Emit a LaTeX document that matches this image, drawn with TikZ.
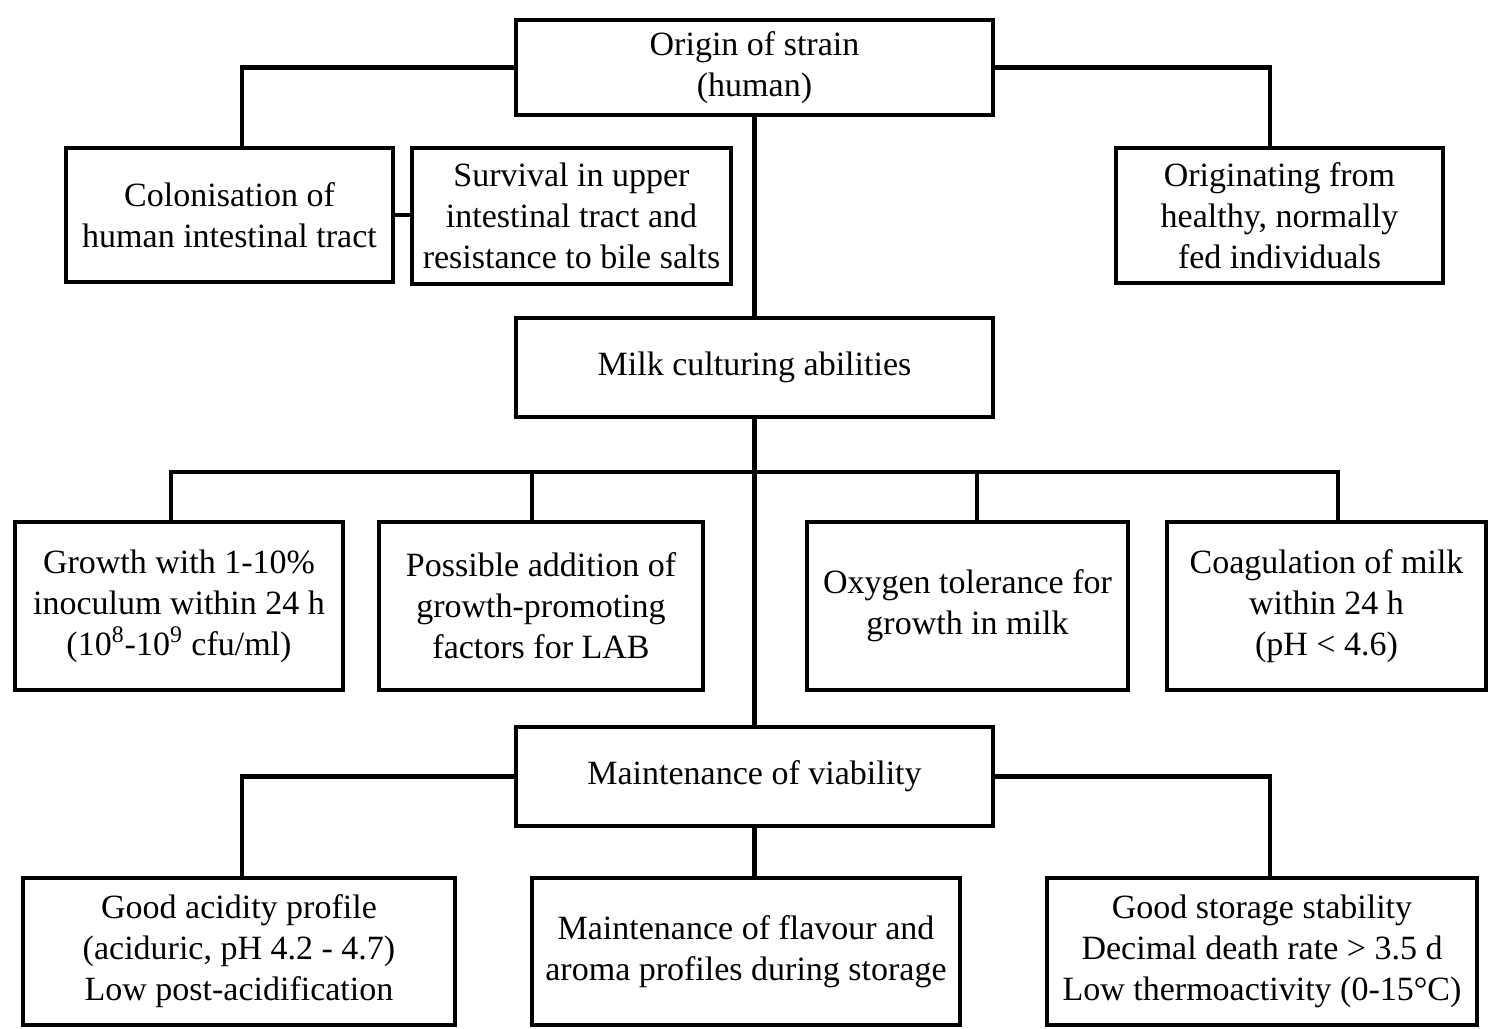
\documentclass[tikz,border=0pt]{standalone}
\usepackage{fontspec}
\setmainfont{Liberation Serif}
\begin{document}
\begin{tikzpicture}[x=0.5pt,y=-0.5pt,
  box/.style={draw,line width=2.2pt,inner sep=0pt,align=center,
    font=\fontsize{17}{20.5}\selectfont},
  link/.style={line width=2.2pt}]
\useasboundingbox[fill=white] (0,0) rectangle (1508,1028);
% level 1
\node[box,minimum width=238.5pt,minimum height=47.5pt] (origin) at (754.5,67.5) {Origin of strain\\(human)};
\node[box,minimum width=163.5pt,minimum height=67pt] (colon) at (229.5,215) {Colonisation of\\human intestinal tract};
\node[box,minimum width=159.5pt,minimum height=68pt] (surv) at (571.5,216) {Survival in upper\\intestinal tract and\\resistance to bile salts};
\node[box,minimum width=163.5pt,minimum height=67.5pt] (healthy) at (1279.5,215.5) {Originating from\\healthy, normally\\fed individuals};
% level 2
\node[box,minimum width=238.5pt,minimum height=49.5pt] (milk) at (754.5,367.5) {Milk culturing abilities};
\node[box,minimum width=164pt,minimum height=84pt] (growth) at (179,606) {Growth with 1-10\%\\inoculum within 24 h\\(10\textsuperscript{8}-10\textsuperscript{9} cfu/ml)};
\node[box,minimum width=162pt,minimum height=84pt] (poss) at (541,606) {Possible addition of\\growth-promoting\\factors for LAB};
\node[box,minimum width=160.5pt,minimum height=84pt] (oxy) at (967.5,606) {Oxygen tolerance for\\growth in milk};
\node[box,minimum width=159.5pt,minimum height=84pt] (coag) at (1326.5,606) {Coagulation of milk\\within 24 h\\(pH < 4.6)};
% level 3
\node[box,minimum width=238.5pt,minimum height=49.5pt] (maint) at (754.5,776.5) {Maintenance of viability};
\node[box,minimum width=216pt,minimum height=73.5pt] (acid) at (239,951.5) {Good acidity profile\\(aciduric, pH 4.2 - 4.7)\\Low post-acidification};
\node[box,minimum width=214pt,minimum height=73.5pt] (flav) at (746,951.5) {Maintenance of flavour and\\aroma profiles during storage};
\node[box,minimum width=215pt,minimum height=73.5pt] (stor) at (1262,951.5) {Good storage stability\\Decimal death rate > 3.5 d\\Low thermoactivity (0-15°C)};
% connectors
\draw[link] (origin.west) -| ([xshift=6.25pt]colon.north);
\draw[link] (origin.east) -| ([xshift=-4.75pt]healthy.north);
\draw[link] (colon.east) -- (colon.east -| surv.west);
\draw[link] (origin.south) -- (milk.north);
\draw[link] (milk.south) -- (maint.north);
\coordinate (bus) at (754.5,472);
\draw[link] (bus) -| ([xshift=-4pt]growth.north);
\draw[link] (bus) -| ([xshift=-4.5pt]poss.north);
\draw[link] (bus) -| ([xshift=4.75pt]oxy.north);
\draw[link] (bus) -| ([xshift=5.75pt]coag.north);
\draw[link] (maint.west) -| ([xshift=1.5pt]acid.north);
\draw[link] (maint.south) -- (maint.south |- flav.north);
\draw[link] (maint.east) -| ([xshift=4pt]stor.north);
\end{tikzpicture}
\end{document}
